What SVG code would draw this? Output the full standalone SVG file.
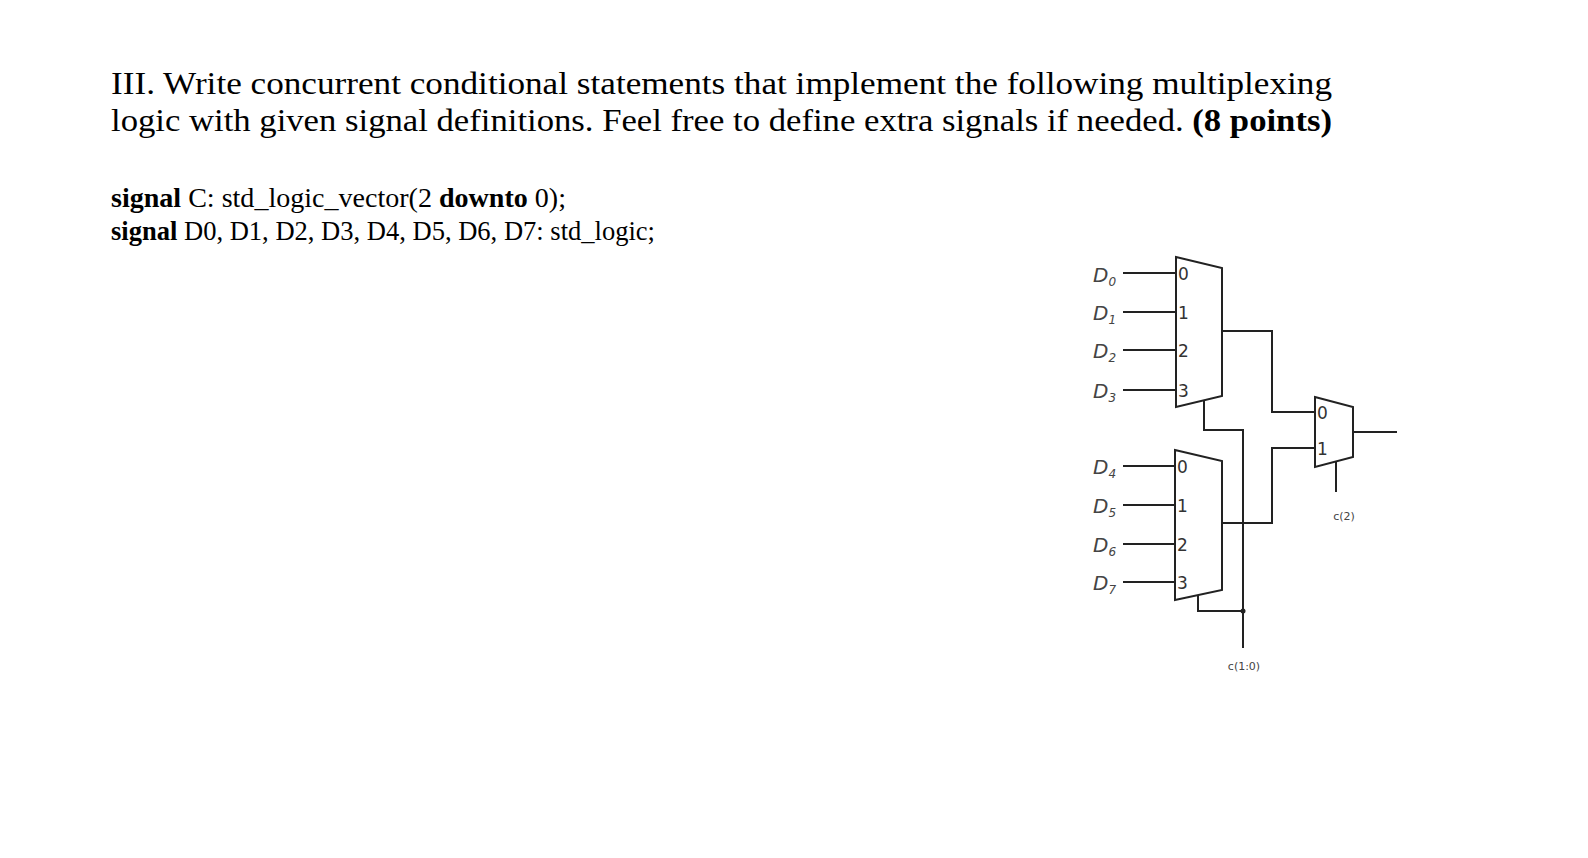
<svg xmlns="http://www.w3.org/2000/svg" width="1588" height="858" viewBox="0 0 1588 858">
<style>
.t{font-family:"Liberation Serif",serif;fill:#000}
.w{fill:none;stroke:#222;stroke-width:2}
.m{fill:#fff;stroke:#222;stroke-width:2}
.n{font-family:"DejaVu Sans",sans-serif;font-size:17px;fill:#333}
.d{font-family:"DejaVu Sans",sans-serif;font-style:italic;font-size:20px;fill:#444}
.s{font-size:12px}
.c{font-family:"DejaVu Sans",sans-serif;font-size:11px;fill:#444}
</style>
<rect width="1588" height="858" fill="#fff"/>
<g id="text">
<text class="t" x="111" y="94" font-size="32" textLength="1221" lengthAdjust="spacingAndGlyphs">III. Write concurrent conditional statements that implement the following multiplexing</text>
<text class="t" x="111" y="131" font-size="32" textLength="1221" lengthAdjust="spacingAndGlyphs">logic with given signal definitions. Feel free to define extra signals if needed. <tspan font-weight="bold">(8 points)</tspan></text>
<text class="t" x="111" y="207" font-size="27" textLength="455" lengthAdjust="spacingAndGlyphs"><tspan font-weight="bold">signal</tspan> C: std_logic_vector(2 <tspan font-weight="bold">downto</tspan> 0);</text>
<text class="t" x="111" y="240" font-size="27" textLength="544" lengthAdjust="spacingAndGlyphs"><tspan font-weight="bold">signal</tspan> D0, D1, D2, D3, D4, D5, D6, D7: std_logic;</text>
</g>
<g id="connectors">
<path class="w" d="M1123 273H1176M1123 312H1176M1123 350H1176M1123 390H1176"/>
<path class="w" d="M1123 466H1175M1123 505H1175M1123 544H1175M1123 582H1175"/>
<path class="w" d="M1222 331H1272V412H1315"/>
<path class="w" d="M1222 523H1272V448H1315"/>
<path class="w" d="M1204 401V430H1243V648"/>
<path class="w" d="M1198 594V611H1243"/>
<circle cx="1243" cy="611" r="2.5" fill="#222"/>
<path class="w" d="M1353 432H1397"/>
<path class="w" d="M1336 462V492"/>
</g>
<g id="mux1">
<polygon class="m" points="1176,257 1222,268 1222,396 1176,407"/>
<text class="n" x="1178" y="280">0</text><text class="n" x="1178" y="319">1</text><text class="n" x="1178" y="357">2</text><text class="n" x="1178" y="397">3</text>
</g>
<g id="mux2">
<polygon class="m" points="1175,450 1222,461 1222,590 1175,600"/>
<text class="n" x="1177" y="473">0</text><text class="n" x="1177" y="512">1</text><text class="n" x="1177" y="551">2</text><text class="n" x="1177" y="589">3</text>
</g>
<g id="mux3">
<polygon class="m" points="1315,397 1353,407 1353,457 1315,467"/>
<text class="n" x="1317" y="419">0</text><text class="n" x="1317" y="455">1</text>
</g>
<g id="labels">
<text class="d" x="1093" y="282">D<tspan class="s" dy="4">0</tspan></text>
<text class="d" x="1093" y="320">D<tspan class="s" dy="4">1</tspan></text>
<text class="d" x="1093" y="358">D<tspan class="s" dy="4">2</tspan></text>
<text class="d" x="1093" y="398">D<tspan class="s" dy="4">3</tspan></text>
<text class="d" x="1093" y="474">D<tspan class="s" dy="4">4</tspan></text>
<text class="d" x="1093" y="513">D<tspan class="s" dy="4">5</tspan></text>
<text class="d" x="1093" y="552">D<tspan class="s" dy="4">6</tspan></text>
<text class="d" x="1093" y="590">D<tspan class="s" dy="4">7</tspan></text>
<text class="c" x="1344" y="520" text-anchor="middle">c(2)</text>
<text class="c" x="1244" y="670" text-anchor="middle">c(1:0)</text>
</g>
</svg>
